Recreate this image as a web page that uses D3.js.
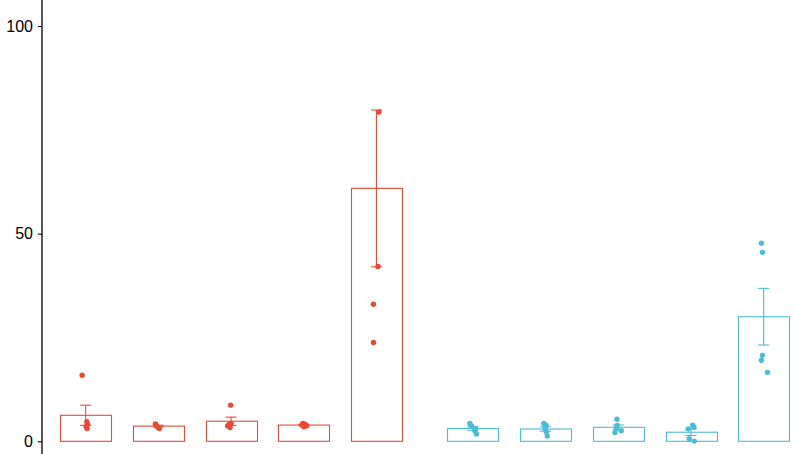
<!DOCTYPE html>
<html>
<head>
<meta charset="utf-8">
<script src="https://cdn.jsdelivr.net/npm/d3@7/dist/d3.min.js"></script>
<style>
  body { margin: 0; background: #fff; }
  text { font-family: "Liberation Sans", Arial, sans-serif; }
</style>
</head>
<body>
<svg id="chart" width="795" height="454"></svg>
<script>

// grupos y muestras (sin etiquetas visibles en el eje x)
var GRUPOS = ['A', 'B'];
var MUESTRAS = ['M1', 'M2', 'M3', 'M4', 'M5'];
var COLORES = ['#E64B35', '#4DBBD5'];
var TICKS_Y = [0, 50, 100];

// réplicas de cada muestra (una queda fuera por arriba)
var valoresA = [
  [15.9, 4.7, 4.1, 3.5, 3.1],
  [4.2, 4.0, 3.7, 3.3, 3.1],
  [8.7, 4.3, 4.1, 3.75, 3.3],
  [4.3, 4.1, 3.9, 3.75, 3.5],
  [126.3, 79.3, 42.1, 33.0, 23.8]
];
var valoresB = [
  [4.3, 3.7, 3.1, 2.55, 1.75],
  [4.3, 3.8, 3.1, 2.3, 1.3],
  [5.3, 3.8, 3.1, 2.55, 2.1],
  [3.9, 3.4, 3.0, 0.6, 0.05],
  [47.7, 45.5, 20.7, 19.5, 16.6]
];

// desplazamiento horizontal (px) de cada punto respecto al centro de la barra
var jitterA = [
  [-3.5, 1.2, 1.8, 0.5, 1.5],
  [-3, -2.5, -1.7, -0.3, 1],
  [-0.4, 0, -1.7, -3.4, -1],
  [-1, 1.3, -2, 3, 0.3],
  [0, 2.5, 1.5, -3, -3]
];
var jitterB = [
  [-3, -1.3, 2.7, 2, 3.7],
  [-1.7, 0.7, -0.5, 0.7, 1.7],
  [-1.3, -1, -2, 3, -3.3],
  [1.7, 3, -2.7, -1.7, 3.3],
  [-2.2, -1.2, -1.2, -2.2, 3.8]
];

var W = 795, H = 454, EJE_X = 42;

var svg = d3.select('#chart');

var y = d3.scaleLinear().domain([0, 100]).range([441.3, 26]);

var xGrupo = d3.scaleBand().domain(GRUPOS).range([49.3, 800]).paddingInner(0.0612);
var xMuestra = d3.scaleBand().domain(MUESTRAS)
  .range([0, xGrupo.bandwidth()])
  .paddingInner(0.3).paddingOuter(0.15);

function resumir(valores, jitter, grupo){
  return valores.map(function(v, i){
    var media = d3.mean(v);
    var se = d3.deviation(v) / Math.sqrt(v.length);
    return {
      grupo: grupo,
      muestra: MUESTRAS[i],
      valores: v,
      jitter: jitter[i],
      media: media,
      se: se
    };
  });
}

var datos = resumir(valoresA, jitterA, 'A').concat(resumir(valoresB, jitterB, 'B'));

function color(d){ return COLORES[GRUPOS.indexOf(d.grupo)]; }
function xIzq(d){ return xGrupo(d.grupo) + xMuestra(d.muestra); }
function xCentro(d){ return xIzq(d) + xMuestra.bandwidth() / 2; }

svg.append('clipPath').attr('id', 'panel')
  .append('rect').attr('x', EJE_X).attr('y', 0).attr('width', W - EJE_X).attr('height', H);

var panel = svg.append('g').attr('clip-path', 'url(#panel)');

// barras (media)
panel.selectAll('rect.barra').data(datos).enter().append('rect')
    .attr('class', 'barra')
    .attr('x', function(d){ return Math.round(xIzq(d)) + 0.5; })
    .attr('y', function(d){ return y(d.media); })
    .attr('width', Math.round(xMuestra.bandwidth()))
    .attr('height', function(d){ return y(0) - y(d.media); })
    .attr('fill', 'none')
    .attr('stroke', color)
    .attr('stroke-width', 1.1);

// barras de error (media ± error estándar)
panel.selectAll('g.error').data(datos).enter().append('g')
    .attr('class', 'error')
    .each(function(d){
      var g = d3.select(this);
      var cx = xCentro(d);
      var arriba = y(d.media + d.se), abajo = y(d.media - d.se);
      g.append('line')
          .attr('x1', cx).attr('x2', cx)
          .attr('y1', arriba).attr('y2', abajo);
      [arriba, abajo].forEach(function(yy){
        g.append('line')
            .attr('x1', cx - 5.5).attr('x2', cx + 5.5)
            .attr('y1', yy).attr('y2', yy);
      });
    })
    .attr('stroke', color)
    .attr('stroke-width', 1.1);

// puntos individuales
panel.selectAll('g.puntos').data(datos).enter().append('g')
    .attr('class', 'puntos')
    .attr('fill', color)
    .each(function(d){
      d3.select(this).selectAll('circle').data(d.valores).enter().append('circle')
          .attr('cx', function(v, i){ return xCentro(d) + d.jitter[i]; })
          .attr('cy', function(v){ return y(v); })
          .attr('r', 2.7);
    });

// eje y
var ejeY = svg.append('g')
    .attr('transform', 'translate(' + EJE_X + ',0)')
    .call(d3.axisLeft(y).tickValues(TICKS_Y).tickSize(4).tickPadding(5));

ejeY.select('.domain').remove();
ejeY.selectAll('text').attr('font-size', 16).attr('fill', '#000').attr('font-family', '"Liberation Sans", Arial, sans-serif');
ejeY.selectAll('line').attr('stroke', '#000').attr('stroke-width', 1.1);

svg.append('line')
    .attr('x1', EJE_X).attr('x2', EJE_X)
    .attr('y1', 0).attr('y2', H)
    .attr('stroke', '#000')
    .attr('stroke-width', 1.3);

</script>
</body>
</html>
